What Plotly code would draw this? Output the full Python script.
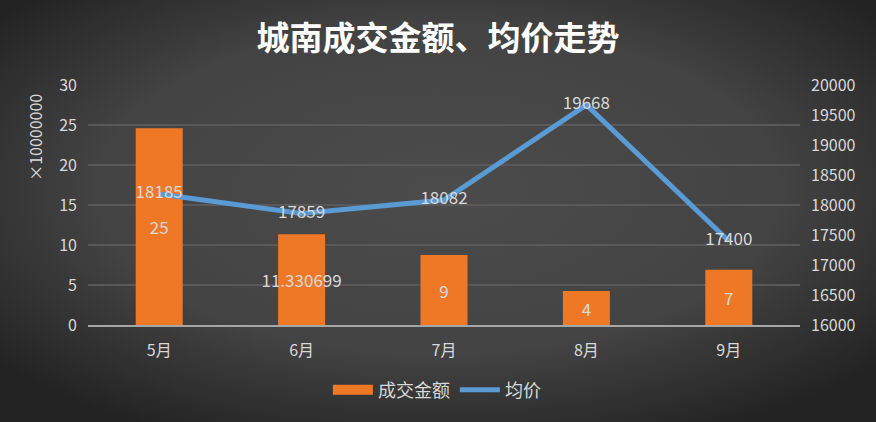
import base64
import plotly.graph_objects as go

# 城南成交金额、均价走势
months = ["5月", "6月", "7月", "8月", "9月"]
amount = [24.6, 11.330699, 8.75, 4.25, 6.9]          # ×10000000
amount_labels = ["25", "11.330699", "9", "4", "7"]
avg_price = [18185, 17859, 18082, 19668, 17400]

W, H = 876, 422
ML, MR, MT, MB = 88, 76, 85, 97
pw, ph = W - ML - MR, H - MT - MB

# radial gray background like the Excel theme
svg = (
    '<svg xmlns="http://www.w3.org/2000/svg" width="876" height="422" preserveAspectRatio="none">'
    '<defs><radialGradient id="g" cx="50%" cy="45%" r="65%">'
    '<stop offset="0%" stop-color="#4c4c4c"/><stop offset="60%" stop-color="#434343"/>'
    '<stop offset="100%" stop-color="#232323"/></radialGradient></defs>'
    '<rect width="876" height="422" fill="url(#g)"/></svg>'
)
bg = "data:image/svg+xml;base64," + base64.b64encode(svg.encode()).decode()

fnt = "Noto Sans CJK SC"
txt_col = "#d9d9d9"
bar_col = "#ef7826"

fig = go.Figure()
fig.add_trace(go.Bar(
    x=months, y=amount, name="成交金额", showlegend=False,
    marker=dict(color=bar_col, line=dict(width=0)),
    text=amount_labels, textposition="inside", insidetextanchor="middle",
    textangle=0, textfont=dict(size=17, color=txt_col, family=fnt),
))
fig.add_trace(go.Scatter(
    x=months, y=avg_price, name="均价", yaxis="y2", showlegend=False,
    mode="lines+text", line=dict(color="#5b9bd5", width=5),
    text=[str(v) for v in avg_price], textposition="middle center",
    textfont=dict(size=17, color=txt_col, family=fnt),
))
# legend entries (Excel style: wide rectangle for the bars)
fig.add_trace(go.Scatter(x=[None], y=[None], name="成交金额", mode="lines",
                         line=dict(color=bar_col, width=12)))
fig.add_trace(go.Scatter(x=[None], y=[None], name="均价", mode="lines",
                         line=dict(color="#5b9bd5", width=5)))

fig.update_layout(
    width=W, height=H,
    margin=dict(l=ML, r=MR, t=MT, b=MB),
    paper_bgcolor="#3a3a3a", plot_bgcolor="rgba(0,0,0,0)",
    font=dict(family=fnt, color=txt_col, size=16),
    title=dict(text="<b>城南成交金额、均价走势</b>", x=0.5, xanchor="center",
               y=1 - 38 / H, yanchor="middle", yref="container",
               font=dict(size=33, color="#ffffff", family=fnt)),
    bargap=0.67,
    uniformtext=dict(minsize=17, mode="show"),
    xaxis=dict(showgrid=False, showline=True, linecolor="#a6a6a6", linewidth=2,
               ticks="", ticklabelstandoff=10, tickfont=dict(size=16, color=txt_col)),
    yaxis=dict(range=[0, 30], dtick=5, gridcolor="#595959", gridwidth=1.5,
               zeroline=False, showline=False, ticks="", ticklabelstandoff=10,
               tickfont=dict(size=16, color=txt_col)),
    yaxis2=dict(range=[16000, 20000], dtick=500, overlaying="y", side="right",
                showgrid=False, zeroline=False, showline=False, tickformat="d",
                ticklabelstandoff=10, tickfont=dict(size=16, color=txt_col)),
    legend=dict(orientation="h", x=0.49, xanchor="center",
                y=-65 / ph, yanchor="middle", itemwidth=40,
                font=dict(size=18, color=txt_col), bgcolor="rgba(0,0,0,0)"),
    images=[dict(source=bg, xref="paper", yref="paper",
                 x=-ML / pw, y=1 + MT / ph, sizex=W / pw, sizey=H / ph,
                 xanchor="left", yanchor="top", sizing="stretch", layer="below")],
    annotations=[dict(text="×10000000", textangle=-90, showarrow=False,
                      xref="paper", yref="paper", x=(35 - ML) / pw, y=0.78,
                      xanchor="center", yanchor="middle",
                      font=dict(size=16, color=txt_col))],
)

fig.write_html("out.html", config={"displayModeBar": False},
               post_script="document.body.style.margin='0';")
